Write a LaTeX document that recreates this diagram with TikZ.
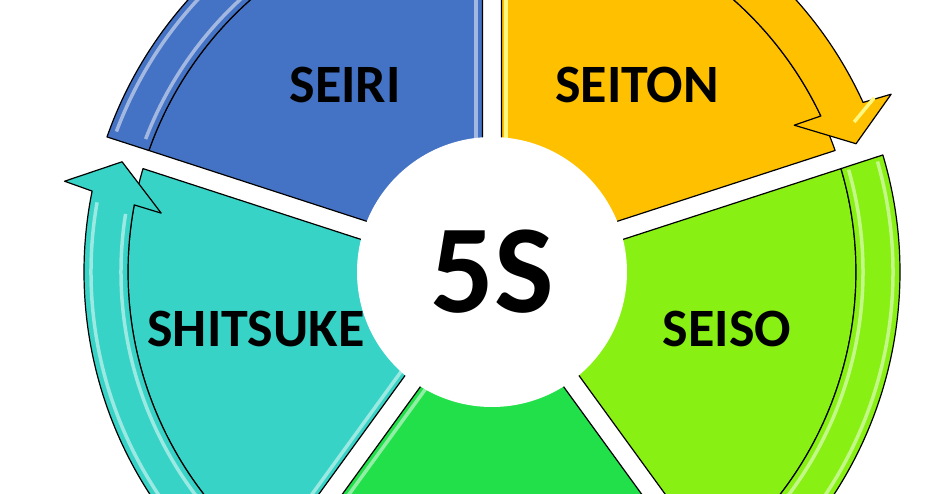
\documentclass[tikz,border=0pt]{standalone}
\usepackage{fontspec}
\setmainfont{Carlito}
\definecolor{seiriblue}{HTML}{4472C4}
\definecolor{seitonorange}{HTML}{FFC000}
\definecolor{seisolime}{HTML}{88F012}
\definecolor{seiketsugreen}{HTML}{22E04A}
\definecolor{shitsuketeal}{HTML}{36D3C6}
\begin{document}
\begin{tikzpicture}[x=1pt,y=1pt,
                    wedgeline/.style={draw=black, line width=1.2pt, line join=round},
                    gloss/.style={draw=white!50!#1, line width=3.5pt},
                    lab/.style={font=\fontsize{54}{60}\selectfont\bfseries}]
\useasboundingbox (-492,-222) rectangle (449,272);
\clip (-492,-222) rectangle (449,272);
% piece: colour, start angle, end angle (clockwise)
\def \piece #1#2#3{\filldraw[wedgeline, fill=#1] ({#2-1.5}:364) arc[start angle={#2-1.5}, end angle={#3+1.5}, radius=364] -- ({#3+5.45}:100) -- ({#2-5.45}:100) -- cycle;}
\def \band #1#2#3{\filldraw[wedgeline, fill=#1] ({#2-1.5}:364) -- ({#2-1.33}:408) arc[start angle={#2-1.33}, end angle={#3+6.56}, radius=408] -- ({#3+6.01}:437) -- ({#3+1.41}:386) -- ({#3+7.91}:336) -- ({#3+7.38}:364) arc[start angle={#3+7.38}, end angle={#2-1.5}, radius=364] -- cycle;}

\piece{seiriblue}{162}{90}
\piece{seitonorange}{90}{18}
\piece{seisolime}{18}{-54}
\piece{seiketsugreen}{-54}{-126}
\piece{shitsuketeal}{234}{162}

\band{seiriblue}{162}{90}
\band{seitonorange}{90}{18}
\band{seisolime}{18}{-54}
\band{seiketsugreen}{-54}{-126}
\band{shitsuketeal}{234}{162}

\draw[gloss=seiriblue] (159:371) arc[start angle=159, end angle=96, radius=371];
\draw[gloss=seiriblue] (159.5:401) arc[start angle=159.5, end angle=96, radius=401];
\draw[gloss=shitsuketeal] (231:371) arc[start angle=231, end angle=171, radius=371];
\draw[gloss=shitsuketeal] (231:401) arc[start angle=231, end angle=170, radius=401];
\draw[gloss=seisolime] (16:371) arc[start angle=16, end angle=-50, radius=371];
\draw[gloss=seisolime] (16:401) arc[start angle=16, end angle=-50, radius=401];
\draw[gloss=yellow] (22.5:392) -- (24.5:420);

\draw[gloss=seiriblue, rotate=90] (130,16) -- (362,16);
\draw[gloss=yellow, rotate=90] (130,-14) -- (362,-14);
\draw[gloss=seiketsugreen, rotate=-126] (130,15) -- (362,15);
\draw[gloss=shitsuketeal, rotate=-126] (130,-15) -- (362,-15);

\node[circle, fill=white, minimum size=270pt, inner sep=0pt,
      font=\fontsize{126}{130}\selectfont\bfseries] (core) at (0,0) {5S};
\node[lab] (seiri) at (-147,187) {SEIRI};
\node[lab] (seiton) at (145,187) {SEITON};
\node[lab] (seiso) at (235,-57) {SEISO};
\node[lab] (shitsuke) at (-236,-57) {SHITSUKE};

\end{tikzpicture}
\end{document}
